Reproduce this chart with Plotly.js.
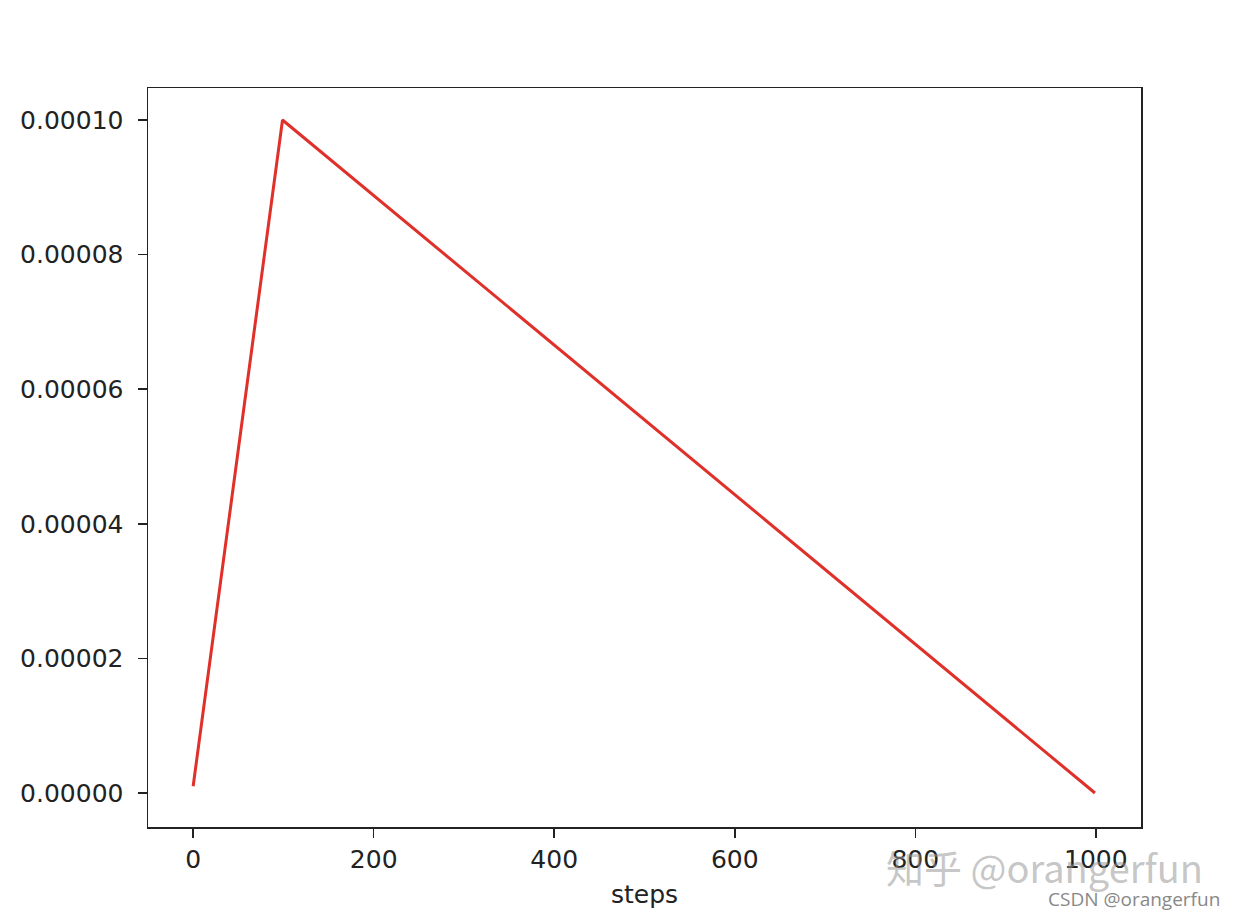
<!DOCTYPE html>
<html>
<head>
<meta charset="utf-8">
<script src="https://cdn.plot.ly/plotly-3.0.1.min.js"></script>
<style>html,body{margin:0;padding:0;background:#fff;}</style>
</head>
<body>
<div id="chart" style="width:1236px;height:920px;"></div>
<script>
const steps = [0, 99, 999];
const lr = [0.000001, 0.0001, 0.0];
const xTicks = [0, 200, 400, 600, 800, 1000];
const yTicks = [0, 0.00002, 0.00004, 0.00006, 0.00008, 0.0001];
const yTickText = ["0.00000", "0.00002", "0.00004", "0.00006", "0.00008", "0.00010"];

const trace = {
  x: steps, y: lr, type: 'scatter', mode: 'lines',
  line: {color: '#e0302a', width: 3},
  hoverinfo: 'skip'
};

const layout = {
  width: 1236, height: 920,
  margin: {l: 148, r: 95, t: 88, b: 93},
  paper_bgcolor: '#fff', plot_bgcolor: '#fff',
  showlegend: false,
  font: {family: 'DejaVu Sans, sans-serif', size: 25, color: '#222'},
  xaxis: {
    range: [-50, 1050], tickvals: xTicks, ticktext: xTicks.map(String),
    ticks: 'outside', ticklen: 9, tickwidth: 1.5, tickcolor: '#222',
    ticklabelstandoff: 0,
    showgrid: false, zeroline: false, showline: true, mirror: true,
    linecolor: '#222', linewidth: 1.5,
    tickfont: {size: 25, color: '#222'},
    title: {text: 'steps', font: {size: 25, color: '#222'}, standoff: 13}
  },
  yaxis: {
    range: [-0.00000505, 0.00010475], tickvals: yTicks, ticktext: yTickText,
    ticks: 'outside', ticklen: 9, tickwidth: 1.5, tickcolor: '#222',
    ticklabelstandoff: 9,
    showgrid: false, zeroline: false, showline: true, mirror: true,
    linecolor: '#222', linewidth: 1.5,
    tickfont: {size: 25, color: '#222'}
  },
  annotations: [
    {text: '知乎 @orangerfun', xref: 'paper', yref: 'paper', x: 1, y: 0,
     xanchor: 'right', yanchor: 'middle', showarrow: false,
     font: {family: 'Noto Sans CJK SC, Noto Sans, sans-serif', size: 38, color: 'rgba(150,150,150,0.55)'}},
    {text: 'CSDN @orangerfun', xref: 'paper', yref: 'paper', x: 1, y: 0,
     xanchor: 'right', yanchor: 'middle', showarrow: false,
     font: {family: 'Open Sans, Noto Sans, sans-serif', size: 19, color: '#888'}}
  ]
};

const plotW = 1236 - 148 - 95, plotH = 920 - 88 - 93;
layout.annotations[0].x = (1205 - 148) / plotW;
layout.annotations[0].y = (827 - 866) / plotH;
layout.annotations[1].x = (1222 - 148) / plotW;
layout.annotations[1].y = (827 - 899) / plotH;

Plotly.newPlot('chart', [trace], layout, {displayModeBar: false, staticPlot: true});
</script>
</body>
</html>
